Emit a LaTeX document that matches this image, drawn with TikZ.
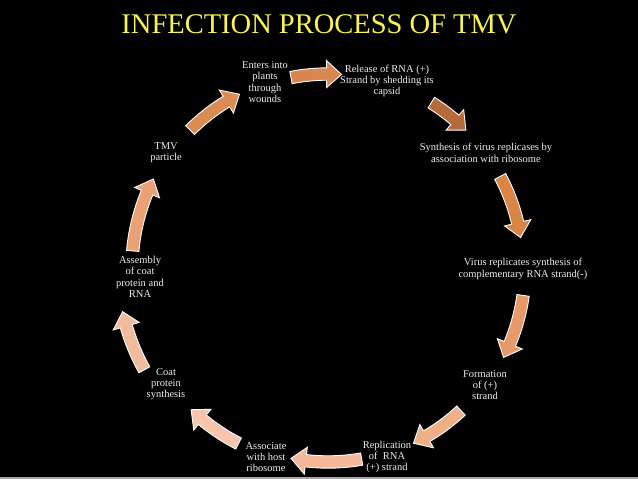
\documentclass[tikz,border=0pt]{standalone}
\usepackage{fontspec}
\setmainfont{Liberation Serif}
\usetikzlibrary{calc}
\definecolor{ttl}{RGB}{250,245,80}
\definecolor{cA}{RGB}{217,134,79}
\definecolor{cB}{RGB}{184,105,58}
\definecolor{cC}{RGB}{218,132,70}
\definecolor{cD}{RGB}{232,153,106}
\definecolor{cE}{RGB}{241,175,136}
\definecolor{cF}{RGB}{244,184,152}
\definecolor{cG}{RGB}{247,197,172}
\definecolor{cH}{RGB}{242,187,156}
\definecolor{cI}{RGB}{235,161,115}
\definecolor{cJ}{RGB}{220,140,82}
\newcommand{\cycarr}[4]{%
  \pgfmathsetmacro{\cycHB}{#2+15/#3*57.2958}%
  \pgfmathsetmacro{\cycRO}{#3+6.2}%
  \pgfmathsetmacro{\cycRI}{#3-6.2}%
  \pgfmathsetmacro{\cycHO}{#3+13.5}%
  \pgfmathsetmacro{\cycHI}{#3-13.5}%
  \filldraw[draw=white, line width=0.9pt, line join=miter, fill=#4]
    ([shift={(#1:\cycRO pt)}]C) arc[start angle=#1, end angle=\cycHB, radius=\cycRO pt]
    -- ([shift={(\cycHB:\cycHO pt)}]C) -- ([shift={(#2:#3 pt)}]C)
    -- ([shift={(\cycHB:\cycHI pt)}]C) -- ([shift={(\cycHB:\cycRI pt)}]C)
    arc[start angle=\cycHB, end angle=#1, radius=\cycRI pt] -- cycle;
}
\tikzset{
  lbl/.style={text=white!93!black, font=\fontsize{10.5}{11.3}\selectfont, align=center, inner sep=0pt},
  ttlstyle/.style={text=ttl, font=\fontsize{28.5}{30}\selectfont, inner sep=0pt, anchor=base}
}
\begin{document}
\begin{tikzpicture}[x=1pt,y=1pt]
\fill[black] (0,0) rectangle (638,-479);
\useasboundingbox (0,0) rectangle (638,-479);
\fill[gray!70] (0,-476.5) rectangle (638,-479);
\coordinate (C) at (328,-268);
\node[ttlstyle] (title) at (319,-33) {INFECTION PROCESS OF TMV};
\node[lbl] (n1) at (265,-82) {Enters into\\plants\\through\\wounds};
\node[lbl] (n2) at (387,-81) {Release of RNA (+)\\Strand by shedding its\\capsid};
\node[lbl] (n3) at (486,-153) {Synthesis of virus replicases by\\association with ribosome};
\node[lbl] (n4) at (523,-269) {Virus replicates synthesis of\\complementary RNA strand(-)};
\node[lbl] (n5) at (485,-385) {Formation\\of (+)\\strand};
\node[lbl] (n6) at (387,-457) {Replication\\of \ RNA\\(+) strand};
\node[lbl] (n7) at (266,-457) {Associate\\with host\\ribosome};
\node[lbl] (n8) at (166,-384) {Coat\\protein\\synthesis};
\node[lbl] (n9) at (140,-277) {Assembly\\of coat\\protein and\\RNA};
\node[lbl] (n10) at (166,-153) {TMV\\particle};
\cycarr{101}{86}{194}{cA}
\cycarr{58}{45}{195}{cB}
\cycarr{28}{9}{195}{cC}
\cycarr{-8}{-27}{197}{cD}
\cycarr{-47}{-64}{195}{cE}
\cycarr{-80}{-101}{194}{cF}
\cycarr{-117}{-134}{197}{cG}
\cycarr{-151}{-168}{210}{cH}
\cycarr{175}{153}{196}{cI}
\cycarr{135}{117}{195}{cJ}
\end{tikzpicture}
\end{document}
